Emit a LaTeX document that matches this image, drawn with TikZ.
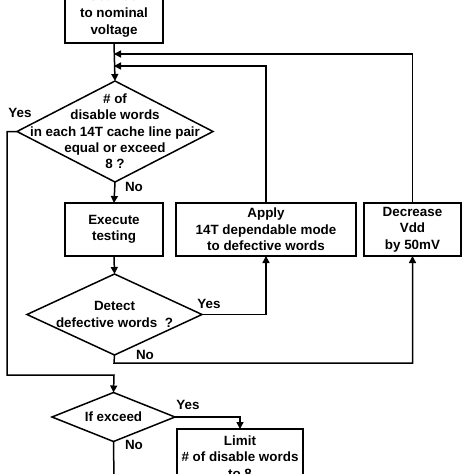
\documentclass[tikz,border=0pt]{standalone}
\usepackage{fontspec}
\setmainfont{Liberation Sans}
\usetikzlibrary{arrows.meta,shapes.geometric}
\begin{document}
\begin{tikzpicture}[x=1pt,y=-1pt,
  every node/.style={font=\bfseries\fontsize{13.4}{16.3}\selectfont},
  box/.style={draw,line width=1.5pt,align=center,inner sep=0pt,outer sep=0pt},
  dia/.style={draw,diamond,line width=1.5pt,inner sep=0pt,outer sep=0pt},
  txt/.style={align=center,inner sep=0pt},
  lbl/.style={inner sep=0pt},
  line/.style={line width=1.5pt},
  arr/.style={line width=1.5pt,-{Triangle[length=7pt,width=7pt]}}]
\useasboundingbox (0,0) rectangle (474,474);
\begin{scope}
\clip (0,0) rectangle (474,474);
% nodes
\node[box,minimum width=98pt,minimum height=62pt] (top) at (114,12) {};
\node[txt] (topt) at (114,14.5) {Set Vdd\\[0.7pt]to nominal\\[0.7pt]voltage};
\node[dia,minimum width=196pt,minimum height=101pt] (d1) at (115,131.5) {};
\node[txt] (d1t) at (d1.center) {\# of\\disable words\\in each 14T cache line pair\\equal or exceed\\8 ?};
\node[box,minimum width=98pt,minimum height=53pt] (exe) at (114,229.5) {Execute\\testing};
\node[box,minimum width=180pt,minimum height=53pt] (app) at (266,229.5) {Apply\\14T dependable mode\\to defective words};
\node[box,minimum width=97pt,minimum height=53pt] (dec) at (412.5,229.5) {Decrease\\Vdd\\by 50mV};
\node[dia,minimum width=175pt,minimum height=81pt] (d2) at (114.5,314.5) {};
\node[txt] (d2t) at (d2.center) {Detect\\defective words\ \ ?};
\node[dia,minimum width=123pt,minimum height=49pt] (d3) at (113.5,417) {};
\node[txt] (d3t) at (d3.center) {If exceed};
\node[box,minimum width=126pt,minimum height=56pt] (lim) at (240,457) {Limit\\\# of disable words\\to 8};
% labels
\node[lbl] (y1) at (20,113) {Yes};
\node[lbl] (n1) at (134,187) {No};
\node[lbl] (y2) at (209,304) {Yes};
\node[lbl] (n2) at (145,355) {No};
\node[lbl] (y3) at (188,405) {Yes};
\node[lbl] (n3) at (134,445) {No};
% coordinates
\coordinate (j1) at (114,54);
\coordinate (j2) at (114,66);
\coordinate (c1) at (7,131.5);
\coordinate (c2) at (7,375);
\coordinate (c3) at (114,375);
\coordinate (c4) at (114,363);
\coordinate (c5) at (114,480);
% connectors
\draw[arr] (top.south) -- (d1.north);
\draw[arr] (dec.north) |- (j1);
\draw[arr] (app.north) |- (j2);
\draw[arr] (d1.south) -- (exe.north);
\draw[arr] (exe.south) -- (d2.north);
\draw[arr] (d2.east) -| (app.south);
\draw[arr] (d2.south) -- (c4) -| (dec.south);
\draw[arr] (d1.west) -- (c1) -- (c2) -- (c3) -- (d3.north);
\draw[arr] (d3.east) -| (lim.north);
\draw[line] (d3.south) -- (c5);
\end{scope}
\end{tikzpicture}
\end{document}
